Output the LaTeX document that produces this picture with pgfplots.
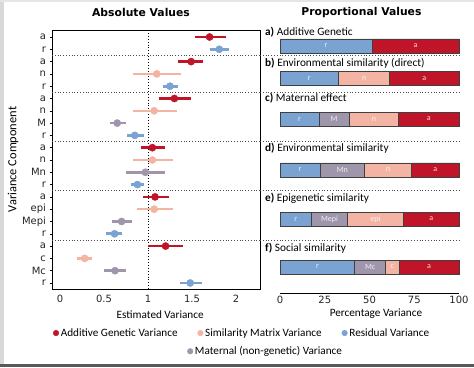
\documentclass[border=0pt]{standalone}
\usepackage{pgfplots}
\pgfplotsset{compat=1.18}
\usepackage{fontspec}
\setmainfont{Carlito}
\newfontfamily\dv{DejaVu Sans}
\definecolor{cA}{RGB}{192,20,40}
\definecolor{cS}{RGB}{243,180,164}
\definecolor{cR}{RGB}{123,163,210}
\definecolor{cM}{RGB}{160,150,172}
\pgfplotsset{dotlegend/.style={legend image code/.code={\draw[mark repeat=2,mark phase=2,##1] plot coordinates {(0pt,0pt)(3pt,0pt)(6pt,0pt)};}}}
\tikzset{seglab/.style={font=\fontsize{8}{9}\selectfont, text=white, text opacity=0.85, inner sep=0pt},
  panlab/.style={font=\fontsize{11.3}{13}\selectfont, anchor=west, inner sep=0pt},
  ttl/.style={font=\dv\bfseries\fontsize{10.8}{12}\selectfont, anchor=center, inner sep=0pt}}
\begin{document}
\begin{tikzpicture}
\path[use as bounding box] (0,0) rectangle (474pt,367pt);
\fill[white] (0,0) rectangle (474pt,367pt);
\fill[black!15] (0,0) rectangle (4pt,367pt);
\fill[black!10] (0,365pt) rectangle (474pt,367pt);
\fill[black!65] (0,0) rectangle (474pt,3pt);
% ---------------- left panel
\begin{axis}[
  at={(52pt,78pt)}, anchor=south west, scale only axis,
  width=208pt, height=259pt,
  xmin=-0.091, xmax=2.273, ymin=-0.57, ymax=20.49, y dir=reverse,
  xtick={0,0.5,1,1.5,2}, xticklabels={0,0.5,1,1.5,2},
  ytick={0,...,20},
  yticklabels={a,r,a,n,r,a,n,M,r,a,n,Mn,r,a,epi,Mepi,r,a,c,Mc,r},
  tick label style={font=\dv\fontsize{10}{12}\selectfont, text=black!85},
  xtick style={draw=none},
  ytick style={black, thin}, tick align=outside, tick pos=left,
  major tick length=2.5pt,
  axis line style={black, line width=1pt},
  clip=false,
  xlabel={Estimated Variance},
  xlabel style={font=\fontsize{11.2}{13}\selectfont, at={(axis description cs:0.52,-0.10)}, anchor=center},
  ylabel={Variance Component},
  ylabel style={font=\fontsize{12.4}{14}\selectfont, at={(axis description cs:-0.1875,0.5)}, anchor=center},
  legend style={draw=none, fill=none, inner sep=0pt, at={(axis description cs:0.005,-0.17)}, anchor=west,
    font=\fontsize{11.2}{13}\selectfont, /tikz/every even column/.append style={column sep=18pt}},
  legend columns=3,
]
\node[ttl] at (axis description cs:0.428,1.066) {Absolute Values};
\draw[black, dotted, line width=0.9pt] (axis cs:1,-0.57) -- (axis cs:1,20.49);
\foreach \r in {1.5,4.5,8.5,12.5,16.5}{
  \edef\tmp{\noexpand\draw[black!70, dotted, line width=0.8pt] (axis cs:-0.091,\r) -- (axis cs:2.273,\r);}\tmp
}
% red
\addplot[forget plot, only marks, mark=*, mark size=3.6pt, color=cA,
  error bars/.cd, x dir=both, x explicit, error mark=none,
  error bar style={line width=2.6pt, cA}]
  table[x=x, y=y, x error plus=ep, x error minus=em]{
x y em ep
1.70 0 0.17 0.19
1.49 2 0.15 0.14
1.30 5 0.175 0.19
1.05 9 0.13 0.14
1.08 13 0.14 0.16
1.20 17 0.20 0.20
};
% pink
\addplot[forget plot, only marks, mark=*, mark size=3.6pt, color=cS,
  error bars/.cd, x dir=both, x explicit, error mark=none,
  error bar style={line width=2.6pt, cS}]
  table[x=x, y=y, x error plus=ep, x error minus=em]{
x y em ep
1.10 3 0.27 0.28
1.07 6 0.24 0.26
1.05 10 0.22 0.23
1.07 14 0.19 0.21
0.28 18 0.09 0.08
};
% blue
\addplot[forget plot, only marks, mark=*, mark size=3.6pt, color=cR,
  error bars/.cd, x dir=both, x explicit, error mark=none,
  error bar style={line width=2.6pt, cR}]
  table[x=x, y=y, x error plus=ep, x error minus=em]{
x y em ep
1.81 1 0.11 0.11
1.25 4 0.08 0.09
0.85 8 0.09 0.10
0.88 12 0.07 0.07
0.62 16 0.10 0.09
1.48 20 0.12 0.13
};
% grey
\addplot[forget plot, only marks, mark=*, mark size=3.6pt, color=cM,
  error bars/.cd, x dir=both, x explicit, error mark=none,
  error bar style={line width=2.6pt, cM}]
  table[x=x, y=y, x error plus=ep, x error minus=em]{
x y em ep
0.65 7 0.08 0.10
0.97 11 0.22 0.22
0.70 15 0.11 0.12
0.625 19 0.125 0.125
};
\addlegendimage{only marks, mark=*, mark size=2.8pt, cA, dotlegend}
\addlegendentry{Additive Genetic Variance}
\addlegendimage{only marks, mark=*, mark size=2.8pt, cS, dotlegend}
\addlegendentry{Similarity Matrix Variance}
\addlegendimage{only marks, mark=*, mark size=2.8pt, cR, dotlegend}
\addlegendentry{Residual Variance}
\end{axis}
% ---------------- legend holder for second row
\begin{axis}[
  at={(52pt,78pt)}, anchor=south west, scale only axis,
  width=208pt, height=259pt,
  xmin=0, xmax=1, ymin=0, ymax=1, hide axis,
  legend style={draw=none, fill=none, inner sep=0pt, at={(axis description cs:0.65,-0.2405)}, anchor=west,
    font=\fontsize{11.2}{13}\selectfont},
]
\addplot[draw=none, forget plot] coordinates {(0,0)};
\addlegendimage{only marks, mark=*, mark size=2.8pt, cM, dotlegend}
\addlegendentry{Maternal (non-genetic) Variance}
\end{axis}
% ---------------- right panel
\begin{axis}[
  at={(280pt,74pt)}, anchor=south west, scale only axis,
  width=179pt, height=263pt,
  xmin=0, xmax=100, ymin=-0.57, ymax=20.81, y dir=reverse,
  axis x line*=bottom, axis y line=none,
  xbar stacked, bar width=14pt,
  xtick={0,25,50,75,100}, xticklabels={0,25,50,75,100},
  tick label style={font=\dv\fontsize{10}{12}\selectfont, text=black!85},
  xtick style={draw=none},
  axis line style={black, line width=1pt},
  clip=false,
  xlabel={Percentage Variance},
  xlabel style={font=\fontsize{11.2}{13}\selectfont, at={(axis description cs:0.536,-0.08)}, anchor=center},
]
\addplot[fill=cR, draw=black!75, line width=0.7pt] coordinates
  {(51.5,0.73) (32.8,3.4) (21.9,6.67) (22.5,10.8) (17.6,14.8) (41.8,18.7)};
\addplot[fill=cM, draw=black!75, line width=0.7pt] coordinates
  {(0,0.73) (0,3.4) (16.7,6.67) (24.7,10.8) (20.2,14.8) (17.2,18.7)};
\addplot[fill=cS, draw=black!75, line width=0.7pt] coordinates
  {(0,0.73) (28.4,3.4) (27.7,6.67) (26.2,10.8) (31.1,14.8) (7.5,18.7)};
\addplot[fill=cA, draw=black!75, line width=0.7pt] coordinates
  {(48.5,0.73) (38.8,3.4) (33.7,6.67) (26.6,10.8) (31.1,14.8) (33.5,18.7)};
\draw[black!70, dotted, line width=0.8pt] (axis cs:-11.2,1.5) -- (axis cs:100.6,1.5);
\draw[black!70, dotted, line width=0.8pt] (axis cs:-11.2,4.5) -- (axis cs:100.6,4.5);
\draw[black!70, dotted, line width=0.8pt] (axis cs:-11.2,8.5) -- (axis cs:100.6,8.5);
\draw[black!70, dotted, line width=0.8pt] (axis cs:-11.2,12.5) -- (axis cs:100.6,12.5);
\draw[black!70, dotted, line width=0.8pt] (axis cs:-11.2,16.5) -- (axis cs:100.6,16.5);
\end{axis}
% ---------------- overlay for labels on the right panel
\begin{axis}[
  at={(280pt,74pt)}, anchor=south west, scale only axis,
  width=179pt, height=263pt,
  xmin=0, xmax=100, ymin=-0.57, ymax=20.81, y dir=reverse,
  hide axis, clip=false,
]
\addplot[draw=none, forget plot] coordinates {(50,10)};
\node[ttl] at (axis description cs:0.455,1.065) {Proportional Values};
\node[seglab] at (axis cs:25.75,0.73) {r}; \node[seglab] at (axis cs:75.75,0.73) {a};
\node[seglab] at (axis cs:16.4,3.4) {r}; \node[seglab] at (axis cs:47,3.4) {n}; \node[seglab] at (axis cs:80.6,3.4) {a};
\node[seglab] at (axis cs:10.95,6.67) {r}; \node[seglab] at (axis cs:30.25,6.67) {M}; \node[seglab] at (axis cs:52.45,6.67) {n}; \node[seglab] at (axis cs:83.15,6.67) {a};
\node[seglab] at (axis cs:11.25,10.8) {r}; \node[seglab] at (axis cs:34.85,10.8) {Mn}; \node[seglab] at (axis cs:60.3,10.8) {n}; \node[seglab] at (axis cs:86.7,10.8) {a};
\node[seglab] at (axis cs:8.8,14.8) {r}; \node[seglab] at (axis cs:27.7,14.8) {Mepi}; \node[seglab] at (axis cs:53.35,14.8) {epi}; \node[seglab] at (axis cs:84.45,14.8) {a};
\node[seglab] at (axis cs:20.9,18.7) {r}; \node[seglab] at (axis cs:50.4,18.7) {Mc}; \node[seglab] at (axis cs:62.75,18.7) {c}; \node[seglab] at (axis cs:83.25,18.7) {a};
\node[panlab] at (axis cs:-8.4,-0.4) {\textbf{a)} Additive Genetic};
\node[panlab] at (axis cs:-8.4,2.1) {\textbf{b)} Environmental similarity (direct)};
\node[panlab] at (axis cs:-8.4,5.0) {\textbf{c)} Maternal effect};
\node[panlab] at (axis cs:-8.4,9.0) {\textbf{d)} Environmental similarity};
\node[panlab] at (axis cs:-8.4,13.1) {\textbf{e)} Epigenetic similarity};
\node[panlab] at (axis cs:-8.4,17.15) {\textbf{f)} Social similarity};
\end{axis}
\end{tikzpicture}
\end{document}
